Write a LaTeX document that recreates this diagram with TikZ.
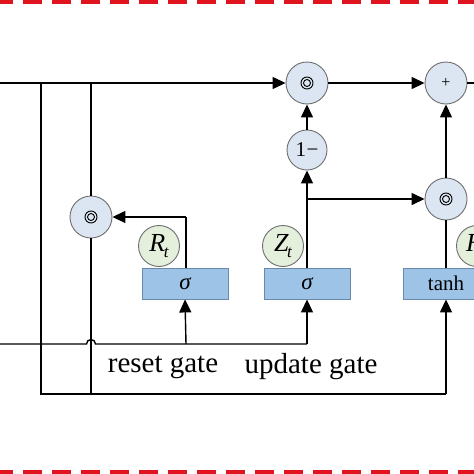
\documentclass[tikz,border=0pt]{standalone}
\usepackage{fontspec}
\setmainfont{Liberation Serif}
\usetikzlibrary{arrows.meta}
\definecolor{opfill}{HTML}{DCE6F2}
\definecolor{opline}{HTML}{6E6E6E}
\definecolor{gfill}{HTML}{E4EFDC}
\definecolor{boxfill}{HTML}{9DC3E6}
\definecolor{boxline}{HTML}{6A88A8}
\definecolor{bred}{HTML}{E0141E}
\tikzset{
  opnode/.style={circle,draw=opline,fill=opfill,line width=0.9pt,minimum size=42pt,inner sep=0pt,font=\fontsize{21}{21}\selectfont},
  gnode/.style={circle,draw=opline,fill=gfill,line width=0.9pt,minimum size=41pt,inner sep=0pt,font=\fontsize{26}{26}\selectfont\itshape},
  gatebox/.style={rectangle,draw=boxline,fill=boxfill,line width=0.9pt,minimum width=86pt,minimum height=31pt,inner sep=0pt,font=\fontsize{21}{21}\selectfont},
  wire/.style={line width=1.4pt,black},
  arr/.style={wire,-{Triangle[length=13pt,width=12pt]}},
  lbl/.style={font=\fontsize{29}{29}\selectfont}
}
\begin{document}
\begin{tikzpicture}[x=1pt,y=-1pt]
\useasboundingbox (0,0) rectangle (474,474);
% red dashed frame
\draw[bred,line width=4pt,dash pattern=on 19pt off 10pt] (-6,1.8) -- (480,1.8);
\draw[bred,line width=4pt,dash pattern=on 19pt off 10pt] (-6,472.2) -- (480,472.2);
% nodes
\node[opnode] (M1) at (307,83) {};
\node[opnode,font=\fontsize{16}{16}\selectfont] (P) at (446,83) {+};
\node[opnode,minimum size=40pt] (OM) at (307,150) {1\kern0.5pt−};
\node[opnode] (MR) at (91,217) {};
\node[opnode] (M2) at (446,199) {};
\node[gnode] (R) at (159,246) {R\kern-1.5pt\raisebox{-0.45ex}{\fontsize{17}{17}\selectfont t}};
\node[gnode] (Z) at (283,246) {Z\kern-1.5pt\raisebox{-0.45ex}{\fontsize{17}{17}\selectfont t}};
\node[gnode] (H) at (477,246) {H\kern-1.5pt\raisebox{-0.45ex}{\fontsize{17}{17}\selectfont t}};
\node[gatebox] (B1) at (185,283.5) {\fontsize{23}{23}\selectfont\itshape σ};
\node[gatebox] (B2) at (307,283.5) {\fontsize{23}{23}\selectfont\itshape σ};
\node[gatebox] (B3) at (446,283.5) {tanh};
% double-circle symbols
\foreach \n in {M1,MR,M2}{
  \draw[line width=0.9pt] (\n) circle (6pt) circle (3.5pt);
}
% coordinates
\coordinate (inT) at (0,83);
\coordinate (outT) at (474,83);
\coordinate (a1) at (41,83);
\coordinate (a2) at (41,394);
\coordinate (b1) at (91,83);
\coordinate (b2) at (91,394);
\coordinate (c1) at (446,394);
\coordinate (inB) at (0,344);
\coordinate (h1) at (86.5,344);
\coordinate (h2) at (95.5,344);
\coordinate (d1) at (186,344);
\coordinate (d2) at (307,344);
\coordinate (e1) at (186,217);
\coordinate (f1) at (307,199);
% wires
\draw[arr] (inT) -- (M1.west);
\draw[arr] (M1.east) -- (P.west);
\draw[wire] (P.east) -- (outT);
\draw[wire] (a1) -- (a2) -- (c1);
\draw[arr] (c1) -- (B3.south);
\draw[wire] (b1) -- (MR.north);
\draw[wire] (MR.south) -- (b2);
\draw[wire] (inB) -- (h1) arc[start angle=180,end angle=0,radius=4.5pt] -- (d2);
\draw[arr] (d1) -- (B1.south);
\draw[arr] (d2) -- (B2.south);
\draw[wire] (B1.north -| e1) -- (e1);
\draw[arr] (e1) -- (MR.east);
\draw[arr] (B2.north) -- (OM.south);
\draw[arr] (f1) -- (M2.west);
\draw[arr] (OM.north) -- (M1.south);
\draw[wire] (B3.north) -- (M2.south);
\draw[arr] (M2.north) -- (P.south);
% labels
\node[lbl] (L1) at (163,367) {reset gate};
\node[lbl] (L2) at (311,367) {update gate};
\end{tikzpicture}
\end{document}
